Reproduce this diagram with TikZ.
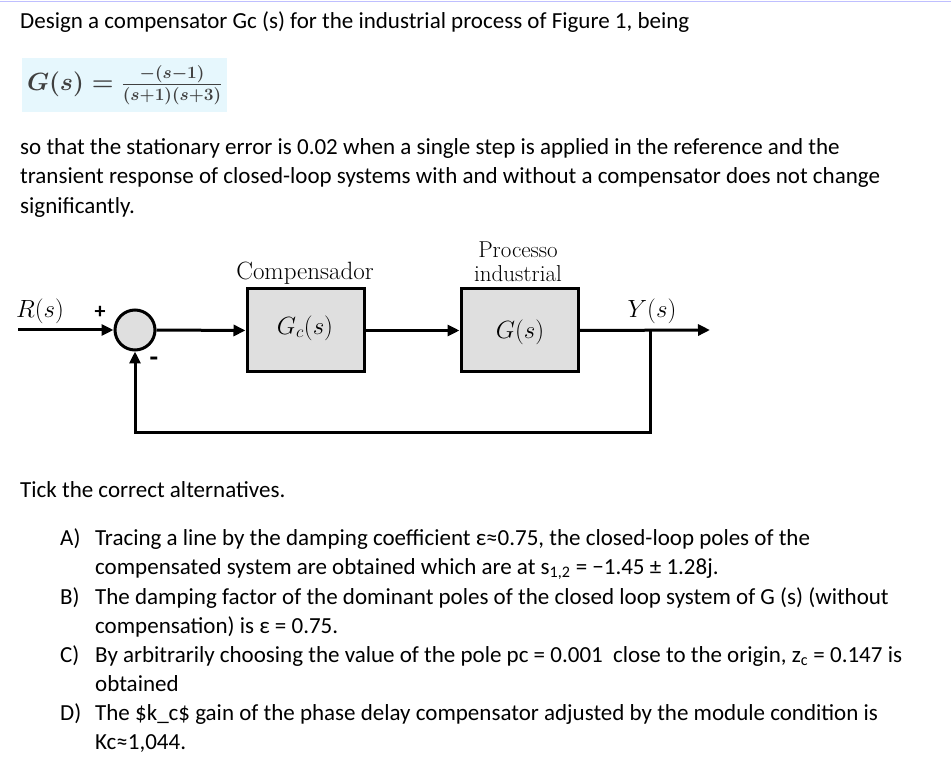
\documentclass[tikz,border=0pt]{standalone}
\usepackage{fontspec}
\setmainfont{Carlito}
\usepackage{amsmath}
\usetikzlibrary{arrows.meta}
\newfontfamily\lmr{Latin Modern Roman}
\begin{document}
\begin{tikzpicture}[x=1pt,y=-1pt,
  txt/.style={anchor=base west,inner sep=0pt,font=\fontsize{23}{25}\selectfont},
  blk/.style={draw,line width=3pt,fill=gray!25,minimum width=117pt,minimum height=83pt,inner sep=0pt},
  lbl/.style={inner sep=0pt,font=\lmr\fontsize{25}{26}\selectfont},
  conn/.style={line width=3pt,-{Triangle[length=12pt,width=11pt]}},
  wire/.style={line width=3pt}]
\useasboundingbox (0,0) rectangle (951,767);
\draw[blue!25,line width=1pt] (0,2) -- (951,2);
\node[txt] (t1) at (20,29) {Design a compensator Gc (s) for the industrial process of Figure 1, being};
\node[fill=cyan!10,minimum width=205pt,minimum height=54pt,inner sep=0pt,anchor=north west] (fb) at (22,58) {};
\node[inner sep=0pt,font=\fontsize{25}{26}\selectfont,text=black!75] (f) at (fb.center) {$\boldsymbol{G(s) = \frac{-(s-1)}{(s+1)(s+3)}}$};
\node[txt] (t2) at (20,155) {so that the stationary error is 0.02 when a single step is applied in the reference and the};
\node[txt] (t3) at (20,184) {transient response of closed-loop systems with and without a compensator does not change};
\node[txt] (t4) at (20,214) {significantly.};
% diagram
\coordinate (in) at (18,330);
\node[draw,circle,line width=3pt,fill=gray!25,minimum size=40pt,inner sep=0pt] (sum) at (135,330) {};
\node[blk] (gc) at (305.5,330.5) {};
\node[lbl] at (305,328) {$G_c(s)$};
\node[blk] (g) at (519.5,330.5) {};
\node[lbl] at (520,332) {$G(s)$};
\node[lbl] (cl) at (305,273) {Compensador};
\node[lbl,align=center,font=\lmr\fontsize{23}{24}\selectfont] (pl) at (518,262) {Processo\\industrial};
\node[lbl] (r) at (40,311) {$R(s)$};
\node[inner sep=0pt,font=\bfseries\fontsize{22}{22}\selectfont] (p) at (100,312) {+};
\node[inner sep=0pt,font=\bfseries\fontsize{28}{28}\selectfont] (m) at (154,362) {-};
\node[lbl] (y) at (652,311) {$Y(s)$};
\coordinate (out) at (710,330);
\coordinate (br) at (650,330);
\coordinate (b1) at (650,432);
\coordinate (b2) at (135,432);
\draw[conn] (in) -- (sum.west);
\draw[conn] (sum.east) -- (gc.west);
\draw[conn] (gc.east) -- (g.west);
\draw[conn] (g.east) -- (out);
\draw[conn] (br) -- (b1) -- (b2) -- (sum.south);
\node[txt] (t5) at (20,497) {Tick the correct alternatives.};
\foreach \l/\yy/\s in {A/545/{Tracing a line by the damping coefficient ε≈0.75, the closed-loop poles of the},
 /574/{compensated system are obtained which are at s\textsubscript{1,2} = −1.45 ± 1.28j.},
 B/604/{The damping factor of the dominant poles of the closed loop system of G (s) (without},
 /633/{compensation) is ε = 0.75.},
 C/662/{By arbitrarily choosing the value of the pole pc = 0.001 \ close to the origin, z\textsubscript{c} = 0.147 is},
 /691/{obtained},
 D/720/{The \$k\_c\$ gain of the phase delay compensator adjusted by the module condition is},
 /749/{Kc≈1,044.}}{
 \node[txt] at (60,\yy) {\ifx\l\empty\else\l)\fi};
 \node[txt] at (95,\yy) {\s};
}
\end{tikzpicture}
\end{document}
